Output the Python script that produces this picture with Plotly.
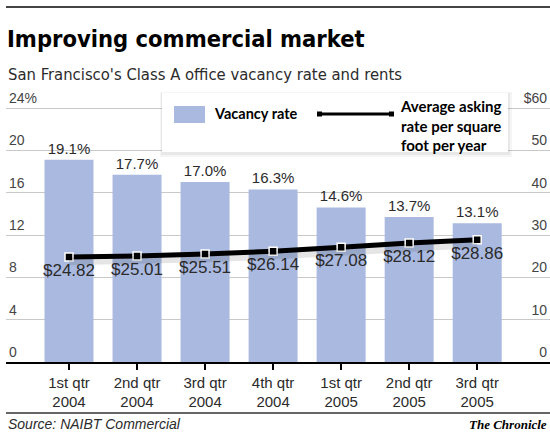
import plotly.graph_objects as go

# San Francisco Class A office market (source: NAIBT Commercial)
quarters = ["1st qtr<br>2004", "2nd qtr<br>2004", "3rd qtr<br>2004", "4th qtr<br>2004",
            "1st qtr<br>2005", "2nd qtr<br>2005", "3rd qtr<br>2005"]
vacancy = [19.1, 17.7, 17.0, 16.3, 14.6, 13.7, 13.1]
rent = [24.82, 25.01, 25.51, 26.14, 27.08, 28.12, 28.86]

left_ticks = [0, 4, 8, 12, 16, 20, 24]
left_text = ["0", "4", "8", "12", "16", "20", "24%"]
right_ticks = [0, 10, 20, 30, 40, 50, 60]
right_text = ["0", "10", "20", "30", "40", "50", "$60"]

W, H = 550, 439
BAR = "#aab9df"
TXT = "#2b2b2b"
SANS = "Liberation Sans, Arial, sans-serif"
COND = "DejaVu Sans Condensed, sans-serif"
BOLD = "Lato, Liberation Sans, sans-serif"

# pixel rows of 0 and of the top of the left axis (24% sits at 108px)
Y0, YTOP = 362, 60
PCT_TOP = 24 * (Y0 - YTOP) / (Y0 - 108)
RENT_TOP = PCT_TOP * 60 / 24


def px(x):
    return x / W


def py(y):
    return 1 - y / H


fig = go.Figure()
fig.add_trace(go.Bar(
    x=quarters, y=vacancy,
    marker=dict(color=BAR, line=dict(width=0)),
    width=0.72,
    text=[f"{v:.1f}%" for v in vacancy],
    textposition="outside",
    constraintext="none",
    cliponaxis=False,
    textfont=dict(family=SANS, size=15, color=TXT),
    showlegend=False,
))
# soft shadow under the rent line (same data on a slightly shifted axis)
fig.add_trace(go.Scatter(
    x=quarters, y=rent, yaxis="y3", mode="lines",
    line=dict(color="rgba(0,0,0,0.10)", width=8),
    hoverinfo="skip", showlegend=False,
))
fig.add_trace(go.Scatter(
    x=quarters, y=rent, yaxis="y2",
    mode="lines+markers+text",
    line=dict(color="black", width=5),
    marker=dict(symbol="square", size=8, color="black", line=dict(color="white", width=1.5)),
    text=[f"${v:.2f}" for v in rent],
    textposition="bottom center",
    textfont=dict(family=SANS, size=17, color=TXT),
    cliponaxis=False,
    showlegend=False,
))

shapes = [
    # rules
    dict(type="line", xref="paper", yref="paper", x0=px(6), x1=px(550), y0=py(7), y1=py(7),
         line=dict(color="#444", width=2)),
    dict(type="line", xref="paper", yref="paper", x0=px(6), x1=px(550), y0=py(413), y1=py(413),
         line=dict(color="#333", width=1.5)),
    # legend box soft shadow + box
    dict(type="rect", xref="paper", yref="paper", x0=px(160), x1=px(512), y0=py(92), y1=py(157),
         fillcolor="rgba(0,0,0,0.04)", line=dict(width=0), layer="above"),
    dict(type="rect", xref="paper", yref="paper", x0=px(161), x1=px(510), y0=py(93), y1=py(155),
         fillcolor="rgba(0,0,0,0.05)", line=dict(width=0), layer="above"),
    dict(type="rect", xref="paper", yref="paper", x0=px(162), x1=px(508), y0=py(93), y1=py(152),
         fillcolor="white", line=dict(width=0), layer="above"),
    dict(type="rect", xref="paper", yref="paper", x0=px(174), x1=px(205), y0=py(106), y1=py(123),
         fillcolor=BAR, line=dict(width=0), layer="above"),
    dict(type="line", xref="paper", yref="paper", x0=px(320), x1=px(391), y0=py(114), y1=py(114),
         line=dict(color="black", width=3), layer="above"),
    dict(type="rect", xref="paper", yref="paper", x0=px(317), x1=px(322), y0=py(111.5), y1=py(116.5),
         fillcolor="black", line=dict(width=0), layer="above"),
    dict(type="rect", xref="paper", yref="paper", x0=px(389), x1=px(394), y0=py(111.5), y1=py(116.5),
         fillcolor="black", line=dict(width=0), layer="above"),
]

annotations = [
    dict(text="<b>Improving commercial market</b>", x=px(5), y=py(39), xanchor="left", yanchor="middle",
         font=dict(family=COND, size=23.5, color="black")),
    dict(text="San Francisco's Class A office vacancy rate and rents", x=px(6), y=py(75),
         xanchor="left", yanchor="middle", font=dict(family=COND, size=16.5, color=TXT)),
    dict(text="<b>Vacancy rate</b>", x=px(212), y=py(114), xanchor="left", yanchor="middle",
         font=dict(family=BOLD, size=14.5, color="black")),
    dict(text="<b>Average asking<br>rate per square<br>foot per year</b>", x=px(398), y=py(126),
         xanchor="left", yanchor="middle", align="left",
         font=dict(family=BOLD, size=15, color="black")),
    dict(text="<i>Source: NAIBT Commercial</i>", x=px(6), y=py(424), xanchor="left", yanchor="middle",
         font=dict(family=SANS, size=14, color=TXT)),
    dict(text="<b><i>The Chronicle</i></b>", x=px(549), y=py(424), xanchor="right", yanchor="middle",
         font=dict(family="Liberation Serif, serif", size=13, color="black")),
]
for a in annotations:
    a.update(xref="paper", yref="paper", showarrow=False)

fig.update_layout(
    width=W, height=H,
    margin=dict(l=0, r=0, t=0, b=0),
    paper_bgcolor="white", plot_bgcolor="white",
    xaxis=dict(
        domain=[px(6), 1],
        range=[-0.926, 7.07],
        showgrid=False, showline=True, linecolor="black", linewidth=1.5,
        ticks="outside", ticklen=6, tickwidth=1.5, tickcolor="black",
        tickfont=dict(family=SANS, size=15, color=TXT),
        fixedrange=True,
    ),
    yaxis=dict(
        domain=[py(Y0), py(YTOP)],
        range=[0, PCT_TOP],
        tickmode="array", tickvals=left_ticks, ticktext=left_text,
        ticklabelposition="inside top",
        showgrid=True, gridcolor="#c9c9c9", gridwidth=1,
        zeroline=False, showline=False, ticks="",
        tickfont=dict(family=SANS, size=14, color="#444"),
    ),
    yaxis2=dict(
        overlaying="y", side="right",
        range=[0, RENT_TOP],
        tickmode="array", tickvals=right_ticks, ticktext=right_text,
        ticklabelposition="inside top",
        showgrid=False, zeroline=False, showline=False, ticks="",
        tickfont=dict(family=SANS, size=14, color="#444"),
    ),
    yaxis3=dict(
        overlaying="y", range=[1.0, RENT_TOP + 1.0], visible=False,
    ),
    shapes=shapes,
    annotations=annotations,
)

fig.write_html("out.html", config={"displayModeBar": False},
               post_script="document.body.style.margin='0';")
